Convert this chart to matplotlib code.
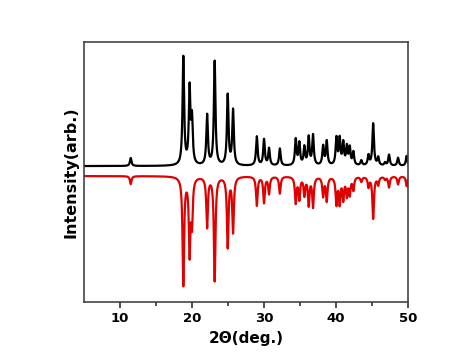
import numpy as np
import matplotlib.pyplot as plt

# peak positions (2theta) and heights
peak_pos = [11.5, 18.8, 19.67, 20.0, 22.1, 23.15, 24.96, 25.7, 29.0, 30.0, 30.7,
            32.2, 34.4, 34.9, 35.6, 36.2, 36.8, 38.2, 38.7, 40.05, 40.5, 41.0,
            41.5, 41.9, 42.4, 43.5, 44.5, 45.15, 45.85, 46.8, 47.35, 48.6, 49.8]
peak_h = [8, 108, 75, 44, 50, 104, 70, 55, 29, 26, 17,
          17, 26, 22, 18, 28, 30, 19, 24, 27, 26, 22,
          18, 17, 13, 5, 10, 42, 8, 3, 11, 8, 10]

black_base = 136
red_base = 126


def pattern(x, pos, h, w):
    y = np.zeros_like(x)
    for p, a in zip(pos, h):
        y += a / (1 + ((x - p) / w) ** 2)
    return y


x = np.linspace(5, 50, 6000)
calc = pattern(x, peak_pos, peak_h, 0.13)
ref = pattern(x, peak_pos, peak_h, 0.13)

fig = plt.figure(figsize=(4.74, 3.63), dpi=100)
ax = fig.add_axes([0.177, 0.168, 0.684, 0.716])
ax.plot(x, black_base + calc, color='black', lw=1.6)
ax.plot(x, red_base - ref, color='#e00000', lw=1.6)

ax.set_xlim(5, 50)
ax.set_ylim(0, 260)
ax.set_xticks([10, 20, 30, 40, 50])
ax.set_xticks([15, 25, 35, 45], minor=True)
ax.set_yticks([])
ax.tick_params(axis='x', which='major', direction='out', length=4, width=1.2, labelsize=9.5, colors='#333333', labelcolor='black')
ax.tick_params(axis='x', which='minor', direction='out', length=3, width=1.2, colors='#333333')
for lab in ax.get_xticklabels():
    lab.set_fontweight('bold')
for s in ax.spines.values():
    s.set_linewidth(1.2)
    s.set_color('#444444')

ax.set_xlabel('2Θ(deg.)', fontsize=11, fontweight='bold', labelpad=4)
ax.set_ylabel('Intensity(arb.)', fontsize=11.5, fontweight='bold', labelpad=4)

fig.savefig('out.png', dpi=100)
